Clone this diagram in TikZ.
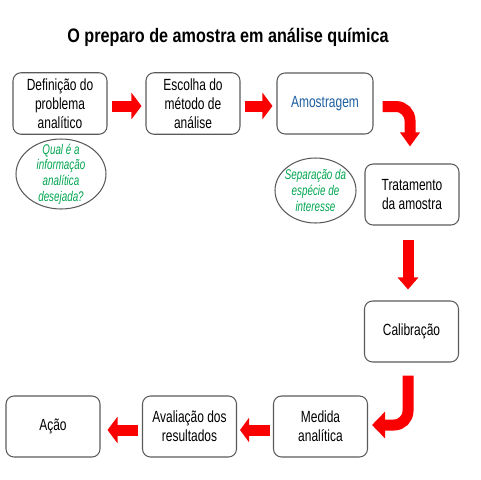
\documentclass[tikz,border=0pt]{standalone}
\usepackage{fontspec}
\setmainfont{Liberation Sans}[FakeStretch=0.74]
\newfontfamily\titlefont{Liberation Sans}[FakeStretch=0.83]
\newfontfamily\notefont{Liberation Sans}[FakeStretch=0.7]
\usetikzlibrary{arrows.meta, shapes.geometric, calc}
\definecolor{boxgray}{RGB}{90,90,90}
\definecolor{arrowred}{RGB}{250,0,0}
\definecolor{notegreen}{RGB}{0,165,80}
\definecolor{stepblue}{RGB}{30,95,160}

\tikzset{
  stage/.style={rectangle, rounded corners=0.16cm, draw=boxgray, line width=0.6pt, minimum width=1.88cm, minimum height=1.22cm, align=center, font=\fontsize{9.2}{10.8}\selectfont},
  note/.style={ellipse, draw=boxgray, line width=0.6pt, inner sep=0pt},
  notetext/.style={align=center, text=notegreen, font=\notefont\fontsize{8}{9}\selectfont\itshape},
  bigarrow/.style={arrowred, line width=0.22cm, -{Triangle[width=0.52cm, length=0.2cm]}},
}

\begin{document}
\begin{tikzpicture}[x=0.02cm, y=-0.02cm]
      \useasboundingbox (0,0) rectangle (480,480);

      \node[anchor=base, font=\titlefont\fontsize{11.1}{13}\selectfont\bfseries] (title) at (228,42) {O preparo de amostra em análise química};

      \node[stage] (b1) at (60,103.5) {Definição do\\problema\\analítico};
      \node[stage] (b2) at (193,103.5) {Escolha do\\método de\\análise};
      \node[stage, minimum width=1.92cm, text=stepblue] (b3) at (325,103.5) {Amostragem};
      \node[stage] (b4) at (412,194.5) {Tratamento\\da amostra};
      \node[stage] (b5) at (411.5,331.5) {Calibração};
      \node[stage] (b6) at (320.5,426.5) {Medida\\analítica};
      \node[stage] (b7) at (189.5,426.5) {Avaliação dos\\resultados};
      \node[stage] (b8) at (53,426.5) {Ação};

      \node[note, minimum width=1.8cm, minimum height=1.4cm] (e1) at (61,174) {};
      \node[notetext] (e1text) at (e1) {Qual é a\\informação\\analítica\\desejada?};
      \node[note, minimum width=1.62cm, minimum height=1.3cm] (e2) at (315.5,190.5) {};
      \node[notetext] (e2text) at (e2) {Separação da\\espécie de\\interesse};

      \draw[bigarrow] ($(b1.east)+(4,2.5)$) -- ($(b2.west)+(-4,2.5)$);
      \draw[bigarrow] ($(b2.east)+(4,2.5)$) -- ($(b3.west)+(-4,2.5)$);
      \draw[bigarrow, rounded corners=0.28cm, -{Triangle[width=0.38cm, length=0.28cm]}] ($(b3.east)+(9,3)$) -- ($(b4.north |- b3.east)+(-2,3)$) -- ($(b4.north)+(-2,-17)$);
      \draw[bigarrow, -{Triangle[width=0.4cm, length=0.24cm]}] ($(b4.south)+(-4,14)$) -- ($(b5.north)+(-3.5,-11)$);
      \draw[bigarrow, rounded corners=0.28cm, -{Triangle[width=0.52cm, length=0.26cm]}] ($(b5.south)+(-3.5,13)$) -- ($(b5.south |- b6.east)+(-3.5,-1.5)$) -- ($(b6.east)+(4,-1.5)$);
      \draw[bigarrow, -{Triangle[width=0.48cm, length=0.18cm]}] ($(b6.west)+(-3,3.5)$) -- ($(b7.east)+(3,3.5)$);
      \draw[bigarrow] ($(b7.west)+(-4,3.5)$) -- ($(b8.east)+(7,3.5)$);

    \end{tikzpicture}
\end{document}
